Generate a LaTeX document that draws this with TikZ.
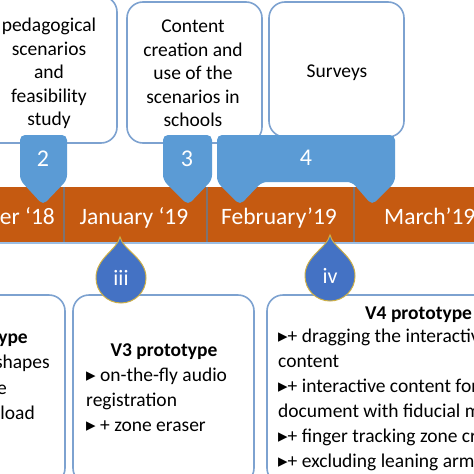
\documentclass[tikz,border=0pt]{standalone}
\usepackage{fontspec}
\setmainfont{Carlito}
\newfontfamily\symfont{DejaVu Sans}
\definecolor{boxline}{RGB}{125,162,208}
\definecolor{badgeblue}{RGB}{91,155,213}
\definecolor{dropblue}{RGB}{68,114,196}
\definecolor{dropgold}{RGB}{205,175,70}
\definecolor{barorange}{RGB}{197,90,17}
\definecolor{bardivider}{RGB}{125,115,115}
\definecolor{barline}{RGB}{155,190,228}
\newcommand{\tri}{{\symfont\fontsize{19}{19}\selectfont ▸}}

\begin{document}
\begin{tikzpicture}[x=1pt,y=-1pt,
    phase/.style={draw=boxline,line width=1.6pt,fill=white,rounded corners=16pt},
    badge/.style={fill=badgeblue,rounded corners=5pt},
    badgetext/.style={text=white,font=\fontsize{24}{24}\selectfont},
    drop/.style={fill=dropblue,draw=dropgold,line width=1pt},
    boxtext/.style={font=\fontsize{19.5}{23.5}\selectfont,align=center,inner sep=0pt},
    monthtext/.style={text=white,font=\fontsize{23.5}{23.5}\selectfont,anchor=base,inner sep=0pt},
    itemtext/.style={font=\fontsize{19.5}{23}\selectfont,anchor=base west,inner sep=0pt},
    cuttext/.style={font=\fontsize{19.5}{23}\selectfont,anchor=base east,inner sep=0pt}]
    \useasboundingbox (0,0) rectangle (474,474);
    \clip (0,0) rectangle (474,474);

    % top phases
    \draw[phase] (-25,-4) rectangle (117,143);
    \draw[phase] (127,2) rectangle (262,143);
    \draw[phase] (269,2) rectangle (404,137);
    \node[boxtext] (phaseA) at (49,73.5) {pedagogical\\scenarios\\and\\feasibility\\study};
    \node[boxtext] (phaseB) at (193,73.5) {Content\\creation and\\use of the\\scenarios in\\schools};
    \node[boxtext] (phaseC) at (337,73) {Surveys};

    % timeline
    \fill[barorange] (0,187) rectangle (474,242);
    \draw[barline,line width=1.5pt] (0,243) -- (474,243);
    \foreach \xd in {64,207,354}
        \draw[bardivider,line width=1.5pt] (\xd,187) -- (\xd,242);
    \node[monthtext,anchor=base east] (monthDec) at (55,224) {er ‘18};
    \node[monthtext] (monthJan) at (134,224) {January ‘19};
    \node[monthtext,anchor=base west] (monthFeb) at (221,224) {February’19};
    \node[monthtext,anchor=base west] (monthMar) at (384,224) {March’19};

    % badges
    \fill[badge] (20,180) -- (20,135) -- (67,135) -- (67,180) -- (43,205) -- cycle;
    \fill[badge] (163,180) -- (163,135) -- (212,135) -- (212,180) -- (188,205) -- cycle;
    \fill[badge] (217,182) -- (217,135) -- (395,135) -- (395,182) -- (372,205)
        -- (352,182) -- (262,182) -- (240,205) -- cycle;
    \node[badgetext] (badgeTwo) at (43,159) {2};
    \node[badgetext] (badgeThree) at (187,159) {3};
    \node[badgetext] (badgeFour) at (306,158) {4};

    % prototypes
    \draw[phase] (-60,295) rectangle (65,484);
    \draw[phase] (73,295) rectangle (254,484);
    \draw[phase] (267,295) rectangle (520,484);

    \node[cuttext,font=\fontsize{19.5}{23}\bfseries] (protoTwo) at (28,343) {ype};
    \node[cuttext] (protoTwoA) at (50,368) {shapes};
    \node[cuttext] (protoTwoB) at (7,394) {e};
    \node[cuttext] (protoTwoC) at (35,419) {load};

    \node[itemtext,anchor=base,font=\fontsize{19.5}{23}\bfseries] (protoThree) at (164,356) {V3 prototype};
    \node[itemtext] (protoThreeA) at (86,381) {\tri\ on-the-fly audio};
    \node[itemtext] (protoThreeB) at (86,406) {registration};
    \node[itemtext] (protoThreeC) at (86,431) {\tri\ + zone eraser};

    \node[itemtext,font=\fontsize{19.5}{23}\bfseries] (protoFour) at (365,319) {V4 prototype};
    \node[itemtext] (protoFourA) at (278,342) {\tri+ dragging the interactive};
    \node[itemtext] (protoFourB) at (278,367) {content};
    \node[itemtext] (protoFourC) at (278,392) {\tri+ interactive content for};
    \node[itemtext] (protoFourD) at (278,417) {document with fiducial markers};
    \node[itemtext] (protoFourE) at (278,442) {\tri+ finger tracking zone creation};
    \node[itemtext] (protoFourF) at (278,467) {\tri+ excluding leaning arm};

    % drops
    \draw[drop] (120,237) .. controls (123,250) and (146,258) .. (146,278)
        arc[start angle=0,end angle=180,radius=25]
        .. controls (96,258) and (117,250) .. (120,237) -- cycle;
    \draw[drop] (330,235) .. controls (333,248) and (355,256) .. (355,276)
        arc[start angle=0,end angle=180,radius=25]
        .. controls (305,256) and (327,248) .. (330,235) -- cycle;
    \node[badgetext,font=\fontsize{22}{22}\selectfont] (dropThree) at (121,278) {iii};
    \node[badgetext,font=\fontsize{22}{22}\selectfont] (dropFour) at (330,276) {iv};
\end{tikzpicture}
\end{document}
